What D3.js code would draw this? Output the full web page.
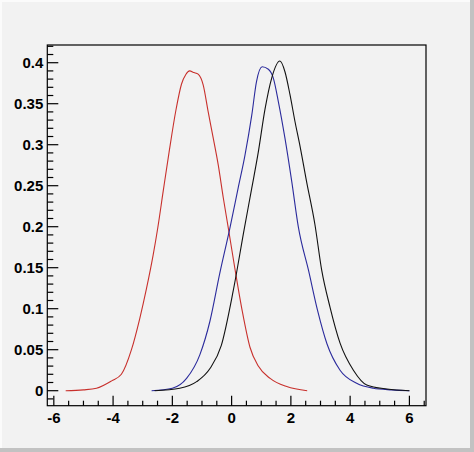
<!DOCTYPE html>
<html>
  <head>
    <meta charset="utf-8">
    <title>Three distributions</title>
    <script src="https://d3js.org/d3.v7.min.js"></script>
    <style>
      body { margin: 0; background: #f2f2f2; }
      svg { display: block; }
      .tick-label {
        font-family: "Liberation Sans", Arial, sans-serif;
        font-weight: bold;
        font-size: 15px;
        fill: #000;
      }
      .curve { fill: none; stroke-width: 1.1px; }
    </style>
  </head>
  <body>
    <svg width="474" height="452"></svg>

    <script>
      // values
      var redX   = [-5.6, -5.0, -4.56, -4.05, -3.72, -3.38, -3.1, -2.87, -2.65, -2.49, -2.31, -2.11, -1.88, -1.69, -1.54, -1.42, -1.27, -1.13, -0.96, -0.79, -0.62, -0.45, -0.28, -0.11, 0.11, 0.36, 0.62, 0.9, 1.3, 1.86, 2.55];
      var redY   = [0.0, 0.001, 0.003, 0.012, 0.02, 0.05, 0.088, 0.125, 0.165, 0.199, 0.243, 0.291, 0.342, 0.374, 0.386, 0.390, 0.388, 0.386, 0.373, 0.340, 0.308, 0.275, 0.235, 0.198, 0.149, 0.097, 0.053, 0.03, 0.015, 0.005, 0.0];

      var blueX  = [-2.7, -2.0, -1.52, -1.07, -0.73, -0.4, -0.06, 0.22, 0.45, 0.68, 0.84, 1.03, 1.24, 1.41, 1.58, 1.8, 2.03, 2.25, 2.6, 2.9, 3.22, 3.66, 4.22, 4.78, 5.4, 6.0];
      var blueY  = [0.0, 0.003, 0.015, 0.044, 0.085, 0.143, 0.198, 0.247, 0.287, 0.336, 0.377, 0.395, 0.392, 0.381, 0.352, 0.308, 0.255, 0.200, 0.146, 0.098, 0.057, 0.025, 0.009, 0.003, 0.001, 0.0];

      var blackX = [-2.6, -1.75, -1.18, -0.73, -0.35, 0.05, 0.43, 0.68, 0.9, 1.13, 1.35, 1.63, 1.8, 1.97, 2.14, 2.31, 2.53, 2.81, 3.04, 3.32, 3.66, 4.11, 4.56, 5.24, 6.0];
      var blackY = [0.0, 0.003, 0.011, 0.027, 0.055, 0.121, 0.198, 0.247, 0.291, 0.344, 0.381, 0.402, 0.389, 0.361, 0.328, 0.298, 0.255, 0.203, 0.147, 0.102, 0.058, 0.025, 0.007, 0.002, 0.0];

      var xTickLabels = [-6, -4, -2, 0, 2, 4, 6];
      var yTickLabels = [0, 0.05, 0.1, 0.15, 0.2, 0.25, 0.3, 0.35, 0.4];

      var width = 474, height = 452;
      var frame = { left: 47.3, top: 45, right: 426, bottom: 405.7 };

      var x = d3.scaleLinear().domain([-6.22, 6.56]).range([frame.left, frame.right]);
      var y = d3.scaleLinear().domain([-0.0183, 0.4216]).range([frame.bottom, frame.top]);

      var svg = d3.select("svg");

      // canvas with a bevelled border
      svg.append("rect").attr("width", width).attr("height", height).attr("fill", "#f2f2f2");
      svg.append("rect").attr("x", 0).attr("y", 0).attr("width", width).attr("height", 2).attr("fill", "#fbfbfb");
      svg.append("rect").attr("x", 0).attr("y", 0).attr("width", 2).attr("height", height).attr("fill", "#fbfbfb");
      svg.append("rect").attr("x", width - 4).attr("y", 0).attr("width", 4).attr("height", height).attr("fill", "#c2c2c2");
      svg.append("rect").attr("x", 0).attr("y", height - 4).attr("width", width).attr("height", 4).attr("fill", "#c2c2c2");

      // curves
      var line = d3.line()
          .x(function(d) { return x(d[0]); })
          .y(function(d) { return y(d[1]); })
          .curve(d3.curveMonotoneX);

      var series = [
        { xs: redX, ys: redY, color: "#c8302c" },
        { xs: blueX, ys: blueY, color: "#2a2a9c" },
        { xs: blackX, ys: blackY, color: "#111" }
      ];

      svg.append("g")
        .selectAll("path")
        .data(series)
        .enter().append("path")
          .attr("class", "curve")
          .attr("stroke", function(s) { return s.color; })
          .attr("d", function(s) { return line(d3.zip(s.xs, s.ys)); });

      // frame
      svg.append("rect")
          .attr("x", frame.left).attr("y", frame.top)
          .attr("width", frame.right - frame.left).attr("height", frame.bottom - frame.top)
          .attr("fill", "none").attr("stroke", "#000").attr("stroke-width", 1.2);

      // x ticks (pointing inward), every 0.5
      var xTicks = d3.range(-6, 6.51, 0.5);
      svg.append("g").selectAll("line")
        .data(xTicks)
        .enter().append("line")
          .attr("x1", function(d) { return x(d); })
          .attr("x2", function(d) { return x(d); })
          .attr("y1", frame.bottom)
          .attr("y2", function(d) { return frame.bottom - (d % 2 === 0 ? 10 : 5); })
          .attr("stroke", "#000").attr("stroke-width", 1.2);

      // y ticks, every 0.01
      var yTicks = d3.range(-1, 43).map(function(i) { return i / 100; });
      svg.append("g").selectAll("line")
        .data(yTicks)
        .enter().append("line")
          .attr("y1", function(d) { return y(d); })
          .attr("y2", function(d) { return y(d); })
          .attr("x1", frame.left)
          .attr("x2", function(d) { return frame.left + (Math.round(d * 100) % 5 === 0 ? 11 : 6); })
          .attr("stroke", "#000").attr("stroke-width", 1.2);

      // labels
      svg.append("g").selectAll("text")
        .data(xTickLabels)
        .enter().append("text")
          .attr("class", "tick-label")
          .attr("x", function(d) { return x(d); })
          .attr("y", frame.bottom + 17)
          .attr("text-anchor", "middle")
          .text(function(d) { return d; });

      svg.append("g").selectAll("text")
        .data(yTickLabels)
        .enter().append("text")
          .attr("class", "tick-label")
          .attr("x", frame.left - 4)
          .attr("y", function(d) { return y(d) + 5.5; })
          .attr("text-anchor", "end")
          .text(function(d) { return d; });
    </script>
  </body>
</html>
